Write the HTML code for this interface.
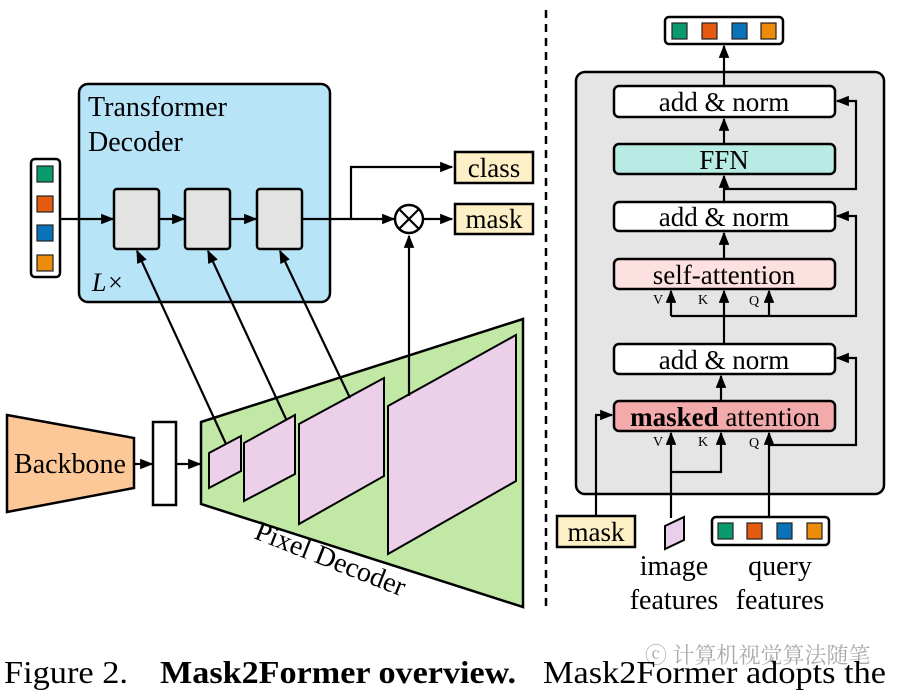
<!DOCTYPE html>
<html><head><meta charset="utf-8"><style>
html,body{margin:0;padding:0;background:#fff;}
svg{display:block;}
text{font-family:"Liberation Serif","Noto Serif CJK SC",serif;fill:#000;}
</style></head><body>
<svg width="906" height="694" viewBox="0 0 906 694" xmlns="http://www.w3.org/2000/svg">
<defs>
<marker id="a" viewBox="0 0 10 10" refX="9" refY="5" markerWidth="6" markerHeight="6" orient="auto-start-reverse"><path d="M0,1 L10,5 L0,9 z" fill="#000"/></marker>
</defs>
<g stroke="#000" stroke-width="2.5">
<rect x="79" y="84" width="251" height="218" rx="9" fill="#b8e4f8"/>
</g>
<text x="88" y="116" font-size="28">Transformer</text>
<text x="88" y="151" font-size="28">Decoder</text>
<text x="92" y="291" font-size="26" font-style="italic">L×</text>
<rect x="31" y="159" width="29" height="118" rx="4" fill="#fff" stroke="#000" stroke-width="2.5"/>
<g stroke="#222" stroke-width="1.2">
<rect x="37" y="166" width="16" height="16" fill="#0a9a6e"/>
<rect x="37" y="196" width="16" height="16" fill="#e45a0f"/>
<rect x="37" y="225" width="16" height="16" fill="#0a72b8"/>
<rect x="37" y="255" width="16" height="16" fill="#ec8c0a"/>
</g>
<g stroke="#000" stroke-width="2.2" fill="none">
<line x1="60" y1="219" x2="113" y2="219" marker-end="url(#a)"/>
<line x1="159" y1="219" x2="184" y2="219" marker-end="url(#a)"/>
<line x1="230" y1="219" x2="256" y2="219" marker-end="url(#a)"/>
<line x1="302" y1="219" x2="394" y2="219" marker-end="url(#a)"/>
<polyline points="351,219 351,167 452,167" marker-end="url(#a)"/>
<line x1="423" y1="219" x2="452" y2="219" marker-end="url(#a)"/>
</g>
<g stroke="#000" stroke-width="2.5" fill="#e3e3e3">
<rect x="114" y="189" width="45" height="60" rx="3"/>
<rect x="185" y="189" width="45" height="60" rx="3"/>
<rect x="257" y="189" width="45" height="60" rx="3"/>
</g>
<circle cx="409" cy="219" r="14" fill="#fff" stroke="#000" stroke-width="2.5"/>
<path d="M399,209 L419,229 M419,209 L399,229" stroke="#000" stroke-width="2.2"/>
<rect x="455" y="152" width="78" height="31" fill="#fdf0c6" stroke="#000" stroke-width="2.5"/>
<text x="494" y="177" font-size="27" text-anchor="middle">class</text>
<rect x="455" y="204" width="78" height="30" fill="#fdf0c6" stroke="#000" stroke-width="2.5"/>
<text x="494" y="228" font-size="27" text-anchor="middle">mask</text>
<polygon points="201,422 523,319 523,607 201,504" fill="#c2e8a6" stroke="#000" stroke-width="2.5"/>
<g fill="#ecd0ea" stroke="#000" stroke-width="2">
<polygon points="209,453 241,436 241,471 209,488"/>
<polygon points="244,443 295,415 295,474 244,501"/>
<polygon points="299,424 384,378 384,476 299,524"/>
<polygon points="388,406 516,335 516,481 388,554"/>
</g>
<g stroke="#000" stroke-width="2.2" fill="none">
<line x1="226" y1="444" x2="137" y2="251" marker-end="url(#a)"/>
<line x1="286" y1="419" x2="208" y2="251" marker-end="url(#a)"/>
<line x1="350" y1="398" x2="280" y2="251" marker-end="url(#a)"/>
<line x1="409" y1="396" x2="409" y2="236" marker-end="url(#a)"/>
<line x1="134" y1="464" x2="152" y2="464" marker-end="url(#a)"/>
<line x1="176" y1="464" x2="200" y2="464" marker-end="url(#a)"/>
</g>
<text transform="translate(253,538) rotate(21.5)" font-size="28">Pixel Decoder</text>
<polygon points="7,415 134,438 134,488 7,512" fill="#fdc898" stroke="#000" stroke-width="2.5"/>
<text x="70" y="473" font-size="28" text-anchor="middle">Backbone</text>
<rect x="153" y="422" width="23" height="83" fill="#fff" stroke="#000" stroke-width="2.5"/>
<line x1="546" y1="10" x2="546" y2="612" stroke="#000" stroke-width="2.5" stroke-dasharray="8,6"/>
<rect x="665" y="17" width="118" height="27" rx="4" fill="#fff" stroke="#000" stroke-width="2.5"/>
<g stroke="#222" stroke-width="1.2">
<rect x="672" y="23" width="15" height="16" fill="#0a9a6e"/>
<rect x="702" y="23" width="15" height="16" fill="#e45a0f"/>
<rect x="732" y="23" width="15" height="16" fill="#0a72b8"/>
<rect x="761" y="23" width="15" height="16" fill="#ec8c0a"/>
</g>
<rect x="576" y="72" width="308" height="422" rx="9" fill="#e5e5e5" stroke="#000" stroke-width="2.5"/>
<g stroke="#000" stroke-width="2.2" fill="none">
<line x1="724" y1="86" x2="724" y2="46" marker-end="url(#a)"/>
<line x1="724" y1="144" x2="724" y2="119" marker-end="url(#a)"/>
<line x1="724" y1="202" x2="724" y2="176" marker-end="url(#a)"/>
<polyline points="724,189 856,189 856,101 837,101" marker-end="url(#a)"/>
<line x1="724" y1="259" x2="724" y2="233" marker-end="url(#a)"/>
<line x1="724" y1="344" x2="724" y2="291" marker-end="url(#a)"/>
<polyline points="671,316 856,316 856,216 837,216"  marker-end="url(#a)"/>
<line x1="671" y1="316" x2="671" y2="291" marker-end="url(#a)"/>
<line x1="769" y1="316" x2="769" y2="291" marker-end="url(#a)"/>
<line x1="721" y1="401" x2="721" y2="376" marker-end="url(#a)"/>
<polyline points="769,445 856,445 856,358 837,358" marker-end="url(#a)"/>
<polyline points="671,474 671,433" marker-end="url(#a)"/>
<polyline points="671,472 721,472 721,433" marker-end="url(#a)"/>
<line x1="671" y1="474" x2="671" y2="518"/>
<line x1="769" y1="517" x2="769" y2="433" marker-end="url(#a)"/>
<polyline points="596,516 596,415 612,415" marker-end="url(#a)"/>
</g>
<g stroke="#000" stroke-width="2.5">
<rect x="614" y="86" width="221" height="31" rx="5" fill="#fff"/>
<rect x="614" y="144" width="221" height="30" rx="5" fill="#b8ebe4"/>
<rect x="614" y="202" width="221" height="29" rx="5" fill="#fff"/>
<rect x="614" y="259" width="221" height="30" rx="5" fill="#fde0e0"/>
<rect x="614" y="344" width="221" height="30" rx="5" fill="#fff"/>
<rect x="614" y="401" width="221" height="30" rx="5" fill="#f2aaaa"/>
</g>
<g font-size="27" text-anchor="middle">
<text x="724" y="111">add &amp; norm</text>
<text x="724" y="169">FFN</text>
<text x="724" y="226">add &amp; norm</text>
<text x="724" y="284">self-attention</text>
<text x="724" y="369">add &amp; norm</text>
<text x="725" y="426"><tspan font-weight="bold">masked</tspan> attention</text>
</g>
<g font-size="14">
<text x="653" y="304">V</text><text x="698" y="304">K</text><text x="749" y="305">Q</text>
<text x="653" y="446">V</text><text x="698" y="446">K</text><text x="749" y="447">Q</text>
</g>
<rect x="557" y="516" width="78" height="31" fill="#fdf0c6" stroke="#000" stroke-width="2.5"/>
<text x="596" y="541" font-size="27" text-anchor="middle">mask</text>
<polygon points="665,526 684,517 684,540 665,549" fill="#e8d0ea" stroke="#000" stroke-width="2"/>
<rect x="712" y="517" width="117" height="28" rx="4" fill="#fff" stroke="#000" stroke-width="2.5"/>
<g stroke="#222" stroke-width="1.2">
<rect x="718" y="523" width="15" height="16" fill="#0a9a6e"/>
<rect x="747" y="523" width="15" height="16" fill="#e45a0f"/>
<rect x="777" y="523" width="15" height="16" fill="#0a72b8"/>
<rect x="807" y="523" width="15" height="16" fill="#ec8c0a"/>
</g>
<g font-size="28" text-anchor="middle">
<text x="674" y="575">image</text><text x="674" y="609">features</text>
<text x="780" y="575">query</text><text x="780" y="609">features</text>
</g>
<text x="645" y="663" font-size="22" style="fill:#aaa" font-family="'Noto Sans CJK SC',sans-serif">ⓒ 计算机视觉算法随笔</text>
<text x="4" y="683" font-size="32" textLength="124" lengthAdjust="spacingAndGlyphs">Figure 2.</text>
<text x="160" y="683" font-size="32" font-weight="bold" textLength="356" lengthAdjust="spacingAndGlyphs">Mask2Former overview.</text>
<text x="543" y="683" font-size="32" textLength="343" lengthAdjust="spacingAndGlyphs">Mask2Former adopts the</text>
</svg>
</body></html>
